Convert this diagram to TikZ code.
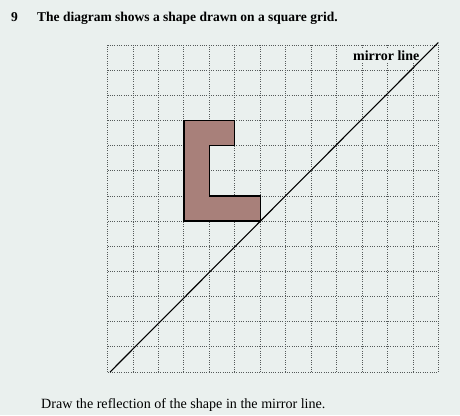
\documentclass[tikz,border=0pt]{standalone}
\usepackage{fontspec}
\setmainfont{Liberation Serif}
\definecolor{bgc}{RGB}{234,240,238}
\definecolor{shapefill}{RGB}{168,128,122}
\definecolor{gridc}{RGB}{85,90,90}
\tikzset{
  gridline/.style={gridc, line width=0.75pt, dash pattern=on 0.8pt off 1.5pt},
  mirror/.style={black, line width=1.1pt},
  shapeedge/.style={draw=black, fill=shapefill, line width=1.4pt, line join=miter},
  title/.style={anchor=base west, font=\bfseries\fontsize{13.5}{15}\selectfont, inner sep=0pt},
  bodytext/.style={anchor=base west, font=\fontsize{14.1}{16}\selectfont, inner sep=0pt},
  mlabel/.style={anchor=base east, font=\bfseries\fontsize{14}{16}\selectfont, fill=bgc, inner xsep=1pt, inner ysep=1.5pt}
}
\begin{document}
\begin{tikzpicture}[x=1pt,y=1pt]
\fill[bgc] (0,0) rectangle (460,415);
\useasboundingbox (0,0) rectangle (460,415);
\node[title] (num) at (11,393) {9};
\node[title] (head) at (37,393) {The diagram shows a shape drawn on a square grid.};
\node[bodytext] (foot) at (41,7) {Draw the reflection of the shape in the mirror line.};
\begin{scope}[shift={(107.5,43)}, x=25.45pt, y=25.15pt]
  \foreach \i in {0,...,13} {
    \draw[gridline] (\i,0) -- (\i,13);
    \draw[gridline] (0,\i) -- (13,\i);
  }
  \draw[shapeedge] (3,10) -- (5,10) -- (5,9) -- (4,9) -- (4,7) -- (6,7) -- (6,6) -- (3,6) -- cycle;
  \node[mlabel] (ml) at (12.3,12.4) {mirror line};
  \coordinate (mA) at (0.1,0);
  \coordinate (mB) at (13,13.1);
  \draw[mirror] (mA) -- (mB);
\end{scope}
\end{tikzpicture}
\end{document}
